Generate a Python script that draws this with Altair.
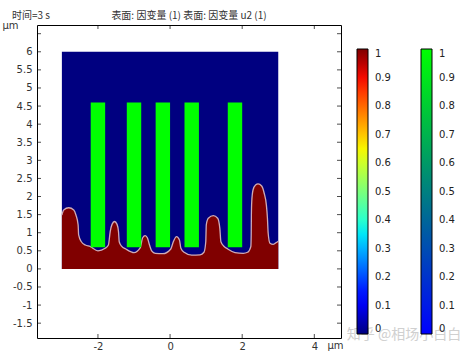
import altair as alt
import pandas as pd

# ---------------- data ----------------
TITLE_LEFT = ["时间=3 s"]
TITLE_CENTER = ["表面: 因变量 (1)  表面: 因变量 u2 (1)"]
WATERMARK = ["知乎 @相场小白白"]

DOMAIN_X = [-3.0, 3.0]
DOMAIN_Y = [0.0, 6.0]

BAR_LEFT = [-2.2, -1.2, -0.4, 0.4, 1.6]
BAR_RIGHT = [-1.8, -0.8, 0.0, 0.8, 2.0]
BAR_BOTTOM = [0.6, 0.6, 0.6, 0.6, 0.6]
BAR_TOP = [4.6, 4.6, 4.6, 4.6, 4.6]

IFACE_X = [-3.0, -2.95, -2.81, -2.67, -2.61, -2.55, -2.535, -2.46, -2.35, -2.22, -2.0,
           -1.80, -1.71, -1.66, -1.61, -1.54, -1.47, -1.43, -1.41, -1.34, -1.23, -1.0,
           -0.83, -0.76, -0.69, -0.63, -0.57, -0.51, -0.41, -0.2, 0.02, 0.09, 0.18,
           0.26, 0.30, 0.39, 0.6, 0.83, 0.94, 0.99, 1.005, 1.06, 1.20, 1.32, 1.38,
           1.41, 1.50, 1.60, 1.8, 2.03, 2.15, 2.24, 2.25, 2.255, 2.265, 2.30, 2.37,
           2.44, 2.54, 2.61, 2.67, 2.70, 2.72, 2.77, 2.86, 2.98, 3.0]
IFACE_Y = [1.49, 1.63, 1.69, 1.63, 1.49, 1.22, 0.94, 0.75, 0.66, 0.62, 0.5,
           0.57, 0.66, 1.03, 1.23, 1.31, 1.23, 1.03, 0.75, 0.62, 0.55, 0.45,
           0.58, 0.86, 0.92, 0.86, 0.66, 0.50, 0.43, 0.42, 0.55, 0.75, 0.89,
           0.80, 0.57, 0.46, 0.38, 0.39, 0.46, 0.75, 1.22, 1.40, 1.47, 1.40, 1.12,
           0.75, 0.62, 0.55, 0.45, 0.43, 0.46, 0.62, 0.94, 1.49, 1.86, 2.18, 2.32,
           2.35, 2.29, 2.09, 1.77, 1.40, 0.99, 0.71, 0.68, 0.75, 0.76]

X_TICKS = [-2, 0, 2, 4]
Y_LABELS = [-1.5, -1, -0.5, 0, 0.5, 1, 1.5, 2, 2.5, 3, 3.5, 4, 4.5, 5, 5.5, 6]
Y_TICKS = Y_LABELS + [6.5]
CBAR_TICKS = [0, 0.1, 0.2, 0.3, 0.4, 0.5, 0.6, 0.7, 0.8, 0.9, 1]

JET_STOPS = [0, 0.11, 0.125, 0.34, 0.35, 0.375, 0.64, 0.65, 0.66, 0.89, 0.91, 1]
JET_COLORS = ["#000080", "#0000ff", "#0000ff", "#00dbff", "#00e6f7", "#15ffe2",
              "#eeff08", "#f7f600", "#ffec00", "#ff1300", "#e80000", "#800000"]
U2_COLORS = ["#0000ff", "#00ff00"]

# ---------------- layout ----------------
W, H = 304, 313
FONT = "DejaVu Sans"
CJK = "Noto Sans CJK SC"

x_scale = alt.Scale(domain=[-3.69, 4.74], nice=False, zero=False)
y_scale = alt.Scale(domain=[-1.91, 6.74], nice=False, zero=False)

x_axis = alt.Axis(values=X_TICKS, labelExpr="'' + datum.value", labelPadding=3,
                  title="μm", titleX=290, titleY=7, titleAlign="left",
                  titleBaseline="middle", titleAnchor="start")
y_axis = alt.Axis(values=Y_LABELS, labelExpr="'' + datum.value", labelPadding=5,
                  title="μm", titleAngle=0, titleX=-35, titleY=0, titleAlign="left",
                  titleBaseline="middle", titleAnchor="end")


def X(field):
    return alt.X(field, type="quantitative", scale=x_scale, axis=x_axis, title="μm")


def Y(field):
    return alt.Y(field, type="quantitative", scale=y_scale, axis=y_axis, title="μm")


legend_common = dict(orient="none", direction="vertical", gradientLength=285,
                     gradientThickness=11, values=CBAR_TICKS, format=".1~f",
                     labelFont=FONT, labelFontSize=10, labelColor="#222",
                     labelOffset=7, labelBaseline="middle", labelOverlap=False,
                     gradientStrokeColor="#000", gradientStrokeWidth=1, padding=0)

jet_color = alt.Color("phi:Q", title=None,
                      scale=alt.Scale(domain=JET_STOPS, range=JET_COLORS, interpolate="rgb"),
                      legend=alt.Legend(legendX=320, legendY=24, **legend_common))
u2_color = alt.Color("u2:Q", title=None,
                     scale=alt.Scale(domain=[0, 1], range=U2_COLORS, interpolate="rgb"),
                     legend=alt.Legend(legendX=384, legendY=24, **legend_common))

dom_df = pd.DataFrame({"x0": [DOMAIN_X[0]], "x1": [DOMAIN_X[1]],
                       "y0": [DOMAIN_Y[0]], "y1": [DOMAIN_Y[1]], "phi": [0.0]})
iface_df = pd.DataFrame({"x": IFACE_X, "y": IFACE_Y, "phi": [1.0] * len(IFACE_X)})
bar_df = pd.DataFrame({"l": BAR_LEFT, "r": BAR_RIGHT, "b": BAR_BOTTOM, "t": BAR_TOP,
                       "u2": [1.0] * len(BAR_LEFT)})
yt_df = pd.DataFrame({"v": Y_TICKS})
xt_df = pd.DataFrame({"v": X_TICKS})

background = alt.Chart(dom_df).mark_rect().encode(
    x=X("x0"), x2="x1:Q", y=Y("y0"), y2="y1:Q", color=jet_color,
)

red = alt.Chart(iface_df).mark_area(interpolate="monotone").encode(
    x=X("x"), y=Y("y"), y2=alt.datum(0), color=jet_color,
)

outline = alt.Chart(iface_df).mark_line(interpolate="monotone", color="#cfaab6",
                                        strokeWidth=1.3).encode(x=X("x"), y=Y("y"))

bars = alt.Chart(bar_df).mark_rect().encode(
    x=X("l"), x2="r:Q", y=Y("b"), y2="t:Q", color=u2_color,
)

tick_style = dict(size=8, thickness=1, clip=True, color="#000")
left_ticks = alt.Chart(yt_df).mark_tick(orient="horizontal", **tick_style).encode(
    y=Y("v"), x=alt.value(0))
right_ticks = alt.Chart(yt_df).mark_tick(orient="horizontal", **tick_style).encode(
    y=Y("v"), x=alt.value(W))
bottom_ticks = alt.Chart(xt_df).mark_tick(orient="vertical", **tick_style).encode(
    x=X("v"), y=alt.value(H))
top_ticks = alt.Chart(xt_df).mark_tick(orient="vertical", **tick_style).encode(
    x=X("v"), y=alt.value(0))

t_left = alt.Chart(pd.DataFrame({"t": TITLE_LEFT})).mark_text(
    font=CJK, fontSize=10, color="#333", align="left", baseline="middle").encode(
    text="t:N", x=alt.value(-25), y=alt.value(-9))
t_center = alt.Chart(pd.DataFrame({"t": TITLE_CENTER})).mark_text(
    font=CJK, fontSize=10, color="#333", align="center", baseline="middle").encode(
    text="t:N", x=alt.value(W / 2), y=alt.value(-9))
wm = alt.Chart(pd.DataFrame({"t": WATERMARK})).mark_text(
    font=CJK, fontSize=14, color="#c8c8c8", opacity=0.85, align="center",
    baseline="middle").encode(text="t:N", x=alt.value(367), y=alt.value(310))

phase = alt.layer(background, red)
green = alt.layer(bars)

chart = alt.layer(
    phase, outline, green, left_ticks, right_ticks, bottom_ticks, top_ticks,
    t_left, t_center, wm
).resolve_scale(color="independent").properties(
    width=W, height=H,
    padding={"left": 37, "top": 25, "right": 133, "bottom": 17},
    autosize=alt.AutoSizeParams(type="none"),
).configure_view(
    stroke="#000", strokeWidth=1
).configure_axis(
    labelFont=FONT, labelFontSize=10, labelColor="#333",
    titleFont=FONT, titleFontSize=10, titleFontWeight="normal", titleColor="#333",
    domain=False, ticks=False, grid=False,
)

chart.save("out.html", embed_options={"renderer": "svg", "actions": False})
